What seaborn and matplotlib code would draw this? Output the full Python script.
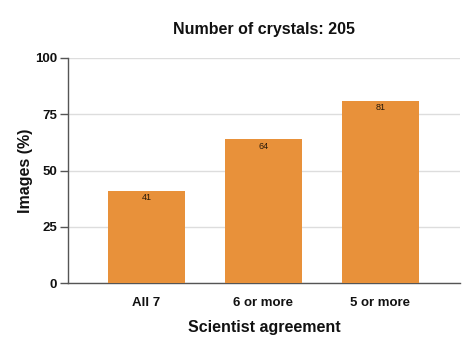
import matplotlib
matplotlib.use("Agg")
import matplotlib.pyplot as plt
import seaborn as sns
import pandas as pd

categories = ["All 7", "6 or more", "5 or more"]
values = [41, 64, 81]
yticks = [0, 25, 50, 75, 100]
title = "Number of crystals: 205"
xlabel = "Scientist agreement"
ylabel = "Images (%)"
bar_color = "#E8913A"

sns.set_style("white")
plt.rcParams["font.family"] = ["Liberation Sans", "DejaVu Sans"]
plt.rcParams["text.color"] = "#111111"
plt.rcParams["axes.labelcolor"] = "#111111"
plt.rcParams["xtick.color"] = "#111111"
plt.rcParams["ytick.color"] = "#111111"

df = pd.DataFrame({"agreement": categories, "images": values})

fig = plt.figure(figsize=(4.74, 3.39), dpi=100)
ax = fig.add_axes([0.1435, 0.165, 0.8265, 0.664])

sns.barplot(data=df, x="agreement", y="images", color=bar_color,
            saturation=1, width=0.66, ax=ax, zorder=3)

for patch in list(ax.patches):
    patch.set_edgecolor("none")

for i, v in enumerate(values):
    ax.text(i, v - 3.2, str(v), ha="center", va="center",
            fontsize=6.5, color="#2a1a0a", zorder=4)

ax.set_ylim(0, 100)
ax.set_xlim(-0.67, 2.68)
ax.set_yticks(yticks)
ax.set_yticklabels([str(t) for t in yticks], fontsize=9.5, fontweight="bold")
ax.tick_params(axis="y", length=6, width=1, color="#555555",
               labelcolor="#111111", pad=2, left=True)
ax.tick_params(axis="x", length=0, pad=10, labelcolor="#111111")
for lbl in ax.get_xticklabels():
    lbl.set_fontsize(9.5)
    lbl.set_fontweight("bold")

ax.grid(axis="y", color="#dddddd", linewidth=1, zorder=0)
ax.set_axisbelow(True)
for s in ["top", "right"]:
    ax.spines[s].set_visible(False)
for s in ["left", "bottom"]:
    ax.spines[s].set_color("#555555")
    ax.spines[s].set_linewidth(1)

ax.set_xlabel(xlabel, fontsize=11.5, fontweight="bold", labelpad=8,
              color="#111111")
ax.set_ylabel(ylabel, fontsize=11.5, fontweight="bold", labelpad=1.5,
              color="#111111")
ax.set_title(title, fontsize=11.5, fontweight="bold", pad=17,
             color="#111111")

fig.savefig("out.png", dpi=100)
